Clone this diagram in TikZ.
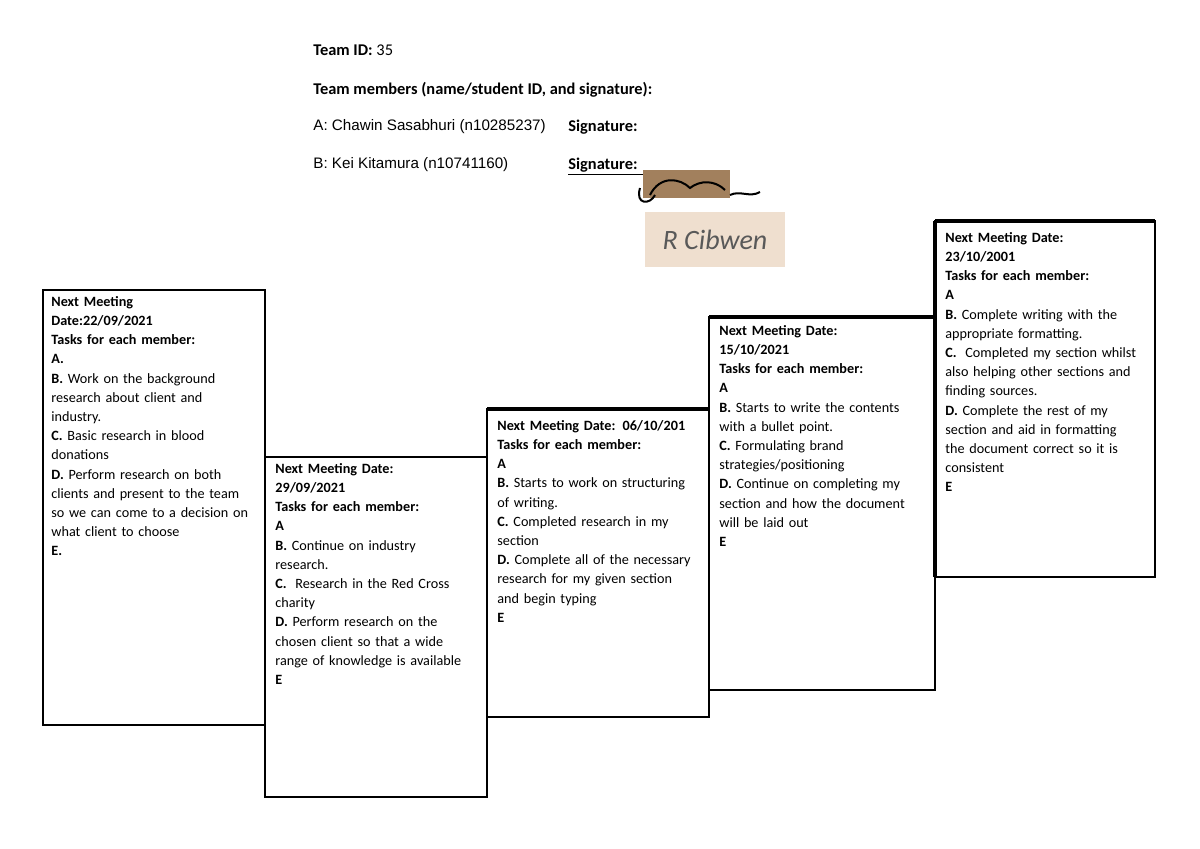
\documentclass[tikz,border=0pt]{standalone}
\usepackage{fontspec}
\setmainfont{Carlito}
\newfontfamily\arial{Liberation Sans}
\newcommand\myNoHyph{\hyphenpenalty=10000\relax\exhyphenpenalty=10000\relax}
\begin{document}
\begin{tikzpicture}[x=0.5pt,y=-0.5pt,
  card/.style={draw,line width=1.1pt},
  cardtxt/.style={anchor=north west,align=left,text width=99pt,inner sep=0pt,font=\fontsize{7.1}{9.6}\selectfont\myNoHyph},
  head/.style={anchor=west,inner sep=0pt,font=\fontsize{8.2}{9}\selectfont}]
\useasboundingbox (0,0) rectangle (1200,848);
\node[head] (t1) at (313,50) {\textbf{Team ID:} 35};
\node[head] (t2) at (313,90) {\textbf{Team members (name/student ID, and signature):}};
\node[head] (t3) at (313,127) {{\arial\fontsize{7.6}{9}\selectfont A: Chawin Sasabhuri (n10285237)}};
\node[head] (t4) at (313,165) {{\arial\fontsize{7.6}{9}\selectfont B: Kei Kitamura (n10741160)}};
\node[head] (s1) at (568,127) {\textbf{Signature:}};
\node[head] (s2) at (568,165) {\textbf{Signature:}};
\draw (568,174) -- (645,174);
% signatures
\fill[brown!55!gray] (643,170) rectangle (730,198);
\draw[line width=1pt] (650,195) .. controls (660,175) and (680,178) .. (690,188) .. controls (700,180) and (715,180) .. (725,190);
\draw[line width=1pt] (640,188) .. controls (635,205) and (650,205) .. (655,195);
\draw[line width=1pt] (730,195) .. controls (740,190) and (750,198) .. (760,192);
\fill[brown!25!white] (645,212) rectangle (785,267);
\node[font=\fontsize{14}{14}\itshape\selectfont,text=gray!70!black] (sig) at (715,240) {R Cibwen};
% cards
\draw[card] (43,290) rectangle (265,725);
\draw[card] (265,457) rectangle (487,797);
\draw[card] (487,409) rectangle (709,717);
\draw[line width=2.4pt] (487,409) -- (709,409);
\draw[card] (709,317) rectangle (935,690);
\draw[line width=2.4pt] (709,317) -- (935,317);
\draw[card] (935,221) rectangle (1155,577);
\draw[line width=2.4pt] (935,221) -- (1155,221);
\draw[line width=2.4pt] (935,221) -- (935,577);
\node[cardtxt] (c1) at (51,296) {\textbf{Next Meeting}\\\textbf{Date:22/09/2021}\\\textbf{Tasks for each member:}\\\textbf{A.}\\\textbf{B.} Work on the background research about client and industry.\\\textbf{C.} Basic research in blood donations\\\textbf{D.} Perform research on both clients and present to the team so we can come to a decision on what client to choose\\\textbf{E.}};
\node[cardtxt] (c2) at (275,463) {\textbf{Next Meeting Date:}\\\textbf{29/09/2021}\\\textbf{Tasks for each member:}\\\textbf{A}\\\textbf{B.} Continue on industry research.\\\textbf{C.}\; Research in the Red Cross charity\\\textbf{D.} Perform research on the chosen client so that a wide range of knowledge is available\\\textbf{E}};
\node[cardtxt] (c3) at (497,420) {\textbf{Next Meeting Date: 06/10/201}\\\textbf{Tasks for each member:}\\\textbf{A}\\\textbf{B.} Starts to work on structuring of writing.\\\textbf{C.} Completed research in my section\\\textbf{D.} Complete all of the necessary research for my given section and begin typing\\\textbf{E}};
\node[cardtxt] (c4) at (719,325) {\textbf{Next Meeting Date:}\\\textbf{15/10/2021}\\\textbf{Tasks for each member:}\\\textbf{A}\\\textbf{B.} Starts to write the contents with a bullet point.\\\textbf{C.} Formulating brand strategies/positioning\\\textbf{D.} Continue on completing my section and how the document will be laid out\\\textbf{E}};
\node[cardtxt] (c5) at (945,232) {\textbf{Next Meeting Date:}\\\textbf{23/10/2001}\\\textbf{Tasks for each member:}\\\textbf{A}\\\textbf{B.} Complete writing with the appropriate formatting.\\\textbf{C.}\; Completed my section whilst also helping other sections and finding sources.\\\textbf{D.} Complete the rest of my section and aid in formatting the document correct so it is consistent\\\textbf{E}};
\end{tikzpicture}
\end{document}
